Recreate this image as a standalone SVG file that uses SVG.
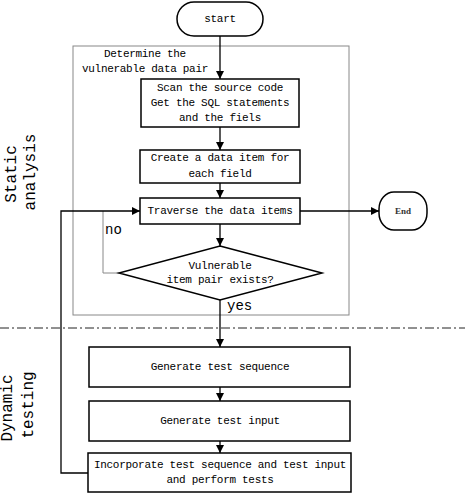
<svg xmlns="http://www.w3.org/2000/svg" width="465" height="493" viewBox="0 0 465 493">
<style>
.box{fill:#fff;stroke:#000;stroke-width:1.5}
.t{font-family:"Liberation Mono",monospace;font-size:11px;letter-spacing:-0.3px;fill:#000;text-anchor:middle;dominant-baseline:central}
.big{font-family:"Liberation Mono",monospace;font-size:14px;fill:#000}
.side{font-family:"Liberation Mono",monospace;font-size:16px;fill:#000;text-anchor:middle;dominant-baseline:central}
.ln{fill:none;stroke:#000;stroke-width:1.3}
.gl{fill:none;stroke:#888;stroke-width:1}
</style>
<defs>
<marker id="ah" viewBox="0 0 10 10" refX="10" refY="5" markerWidth="8" markerHeight="8" markerUnits="userSpaceOnUse" orient="auto">
<path d="M0,0 L10,5 L0,10 z" fill="#000"/>
</marker>
</defs>
<rect id="container" x="73" y="46" width="276" height="269" fill="none" stroke="#888" stroke-width="1"/>
<text class="t" x="104" y="54" style="text-anchor:start">Determine the</text>
<text class="t" x="82" y="69" style="text-anchor:start">vulnerable data pair</text>
<g id="labels">
<text class="side" transform="translate(12,174) rotate(-90)">Static</text>
<text class="side" transform="translate(31,172) rotate(-90)">analysis</text>
<text class="side" transform="translate(8,408) rotate(-90)">Dynamic</text>
<text class="side" transform="translate(29,405) rotate(-90)">testing</text>
</g>
<line id="divider" x1="0" y1="328" x2="465" y2="328" stroke="#222" stroke-width="1" stroke-dasharray="9 3 2 3"/>
<g id="connectors">
<line class="ln" x1="220" y1="36" x2="220" y2="79" marker-end="url(#ah)"/>
<line class="ln" x1="220" y1="127" x2="220" y2="150" marker-end="url(#ah)"/>
<line class="ln" x1="220" y1="183" x2="220" y2="198" marker-end="url(#ah)"/>
<line class="ln" x1="220" y1="224" x2="220" y2="246" marker-end="url(#ah)"/>
<line class="ln" x1="300" y1="211" x2="379" y2="211" marker-end="url(#ah)"/>
<polyline class="gl" points="119,273 103,273 103,211"/>
<polyline class="ln" points="88,473 61,473 61,211 140,211" marker-end="url(#ah)"/>
<line class="ln" x1="220" y1="300" x2="220" y2="347" marker-end="url(#ah)"/>
<line class="ln" x1="220" y1="387" x2="220" y2="401" marker-end="url(#ah)"/>
<line class="ln" x1="220" y1="441" x2="220" y2="453" marker-end="url(#ah)"/>
<text class="big" x="105" y="234">no</text>
<text class="big" x="227" y="310">yes</text>
</g>
<g id="start">
<rect class="box" x="177" y="2" width="86" height="34" rx="17" ry="17"/>
<text class="t" x="220" y="19">start</text>
</g>
<g id="scan">
<rect class="box" x="141" y="79" width="158" height="48"/>
<text class="t" x="220" y="88">Scan the source code</text>
<text class="t" x="220" y="103">Get the SQL statements</text>
<text class="t" x="220" y="118">and the fiels</text>
</g>
<g id="create">
<rect class="box" x="140" y="150" width="160" height="33"/>
<text class="t" x="220" y="158">Create a data item for</text>
<text class="t" x="220" y="174">each field</text>
</g>
<g id="traverse">
<rect class="box" x="140" y="198" width="160" height="26"/>
<text class="t" x="220" y="211">Traverse the data items</text>
</g>
<g id="end">
<rect class="box" x="379" y="192" width="48" height="38" rx="15" ry="17"/>
<text x="403" y="211" font-family="Liberation Serif,serif" font-size="9" font-weight="bold" text-anchor="middle" dominant-baseline="central" fill="#333">End</text>
</g>
<g id="decision">
<polygon class="box" points="220,246 322,273 220,300 119,273"/>
<text class="t" x="220" y="266">Vulnerable</text>
<text class="t" x="220" y="280">item pair exists?</text>
</g>
<g id="genseq">
<rect class="box" x="89" y="347" width="261" height="40"/>
<text class="t" x="220" y="367">Generate test sequence</text>
</g>
<g id="geninput">
<rect class="box" x="89" y="401" width="261" height="40"/>
<text class="t" x="220" y="421">Generate test input</text>
</g>
<g id="incorporate">
<rect class="box" x="88" y="453" width="263" height="39"/>
<text class="t" x="220" y="465">Incorporate test sequence and test input</text>
<text class="t" x="220" y="480">and perform tests</text>
</g>
</svg>
